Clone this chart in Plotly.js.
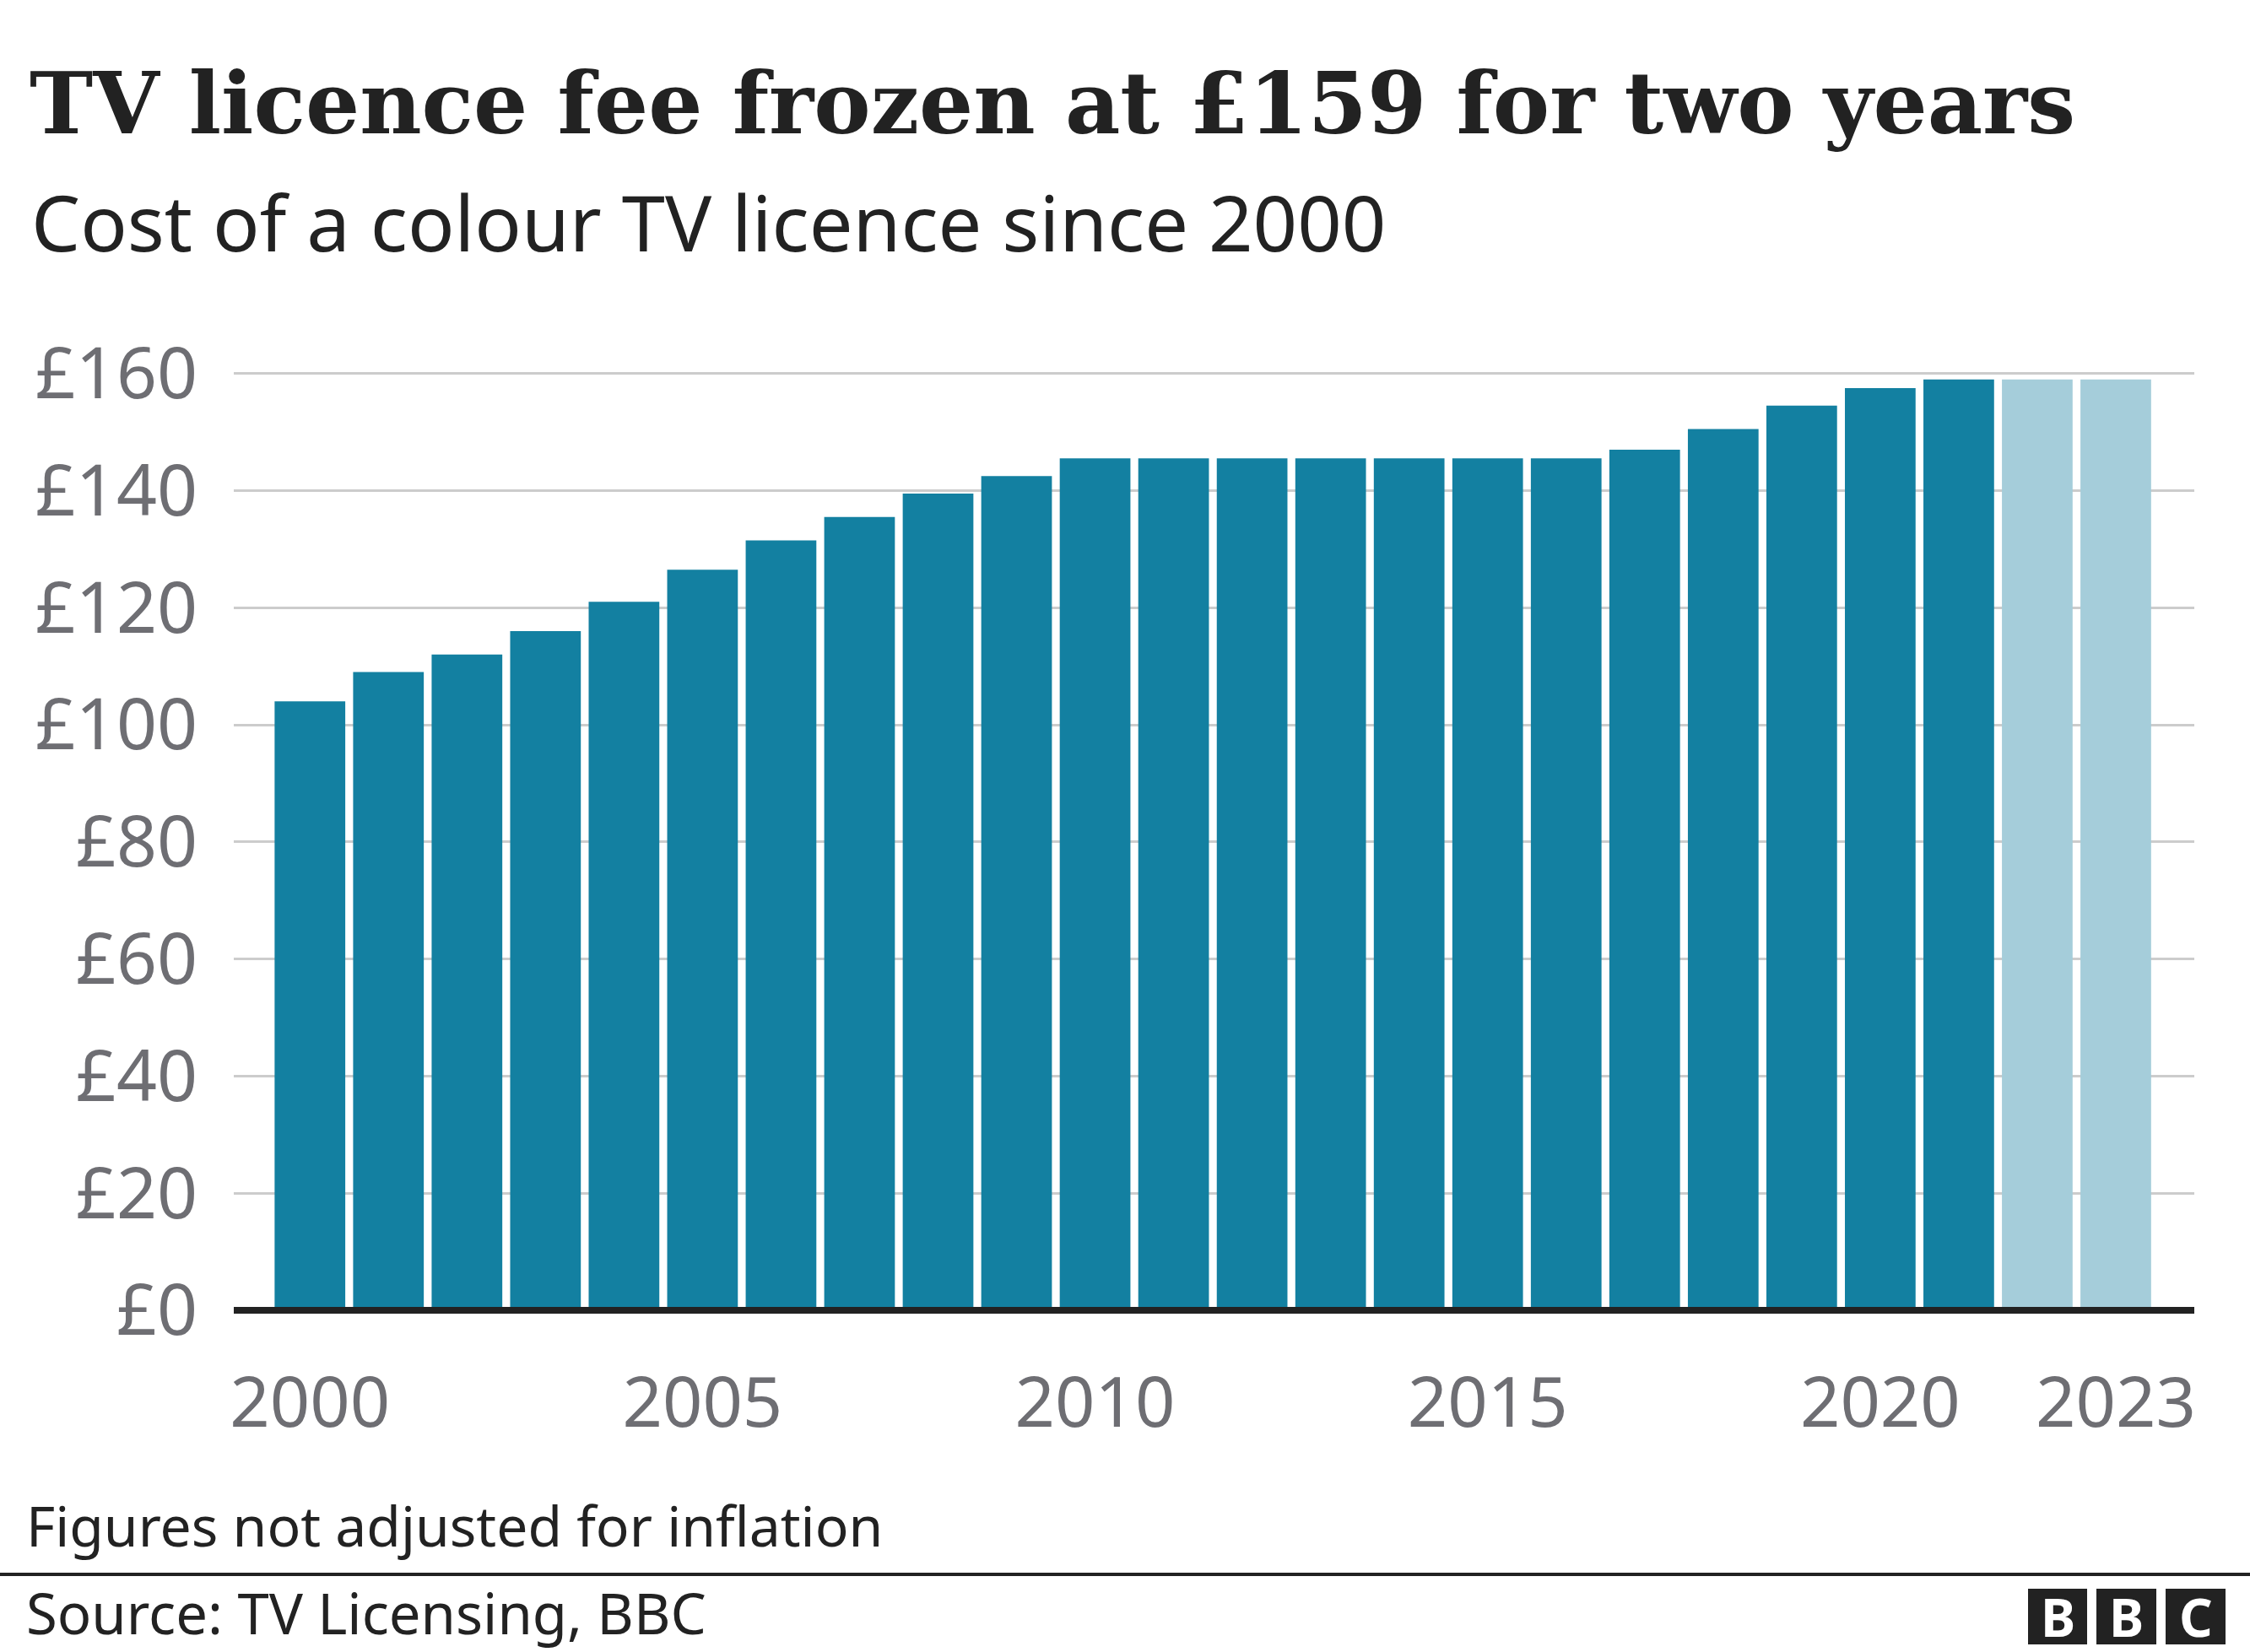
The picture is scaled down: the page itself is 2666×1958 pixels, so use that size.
<!DOCTYPE html>
<html>
<head>
<meta charset="utf-8">
<script src="https://cdn.plot.ly/plotly-3.0.1.min.js"></script>
<style>
  html, body { margin: 0; padding: 0; background: #ffffff; }
  #chart { width: 2666px; height: 1958px; }
</style>
</head>
<body>
<div id="chart"></div>
<script>
// ---- Data ----
const years = [2000, 2001, 2002, 2003, 2004, 2005, 2006, 2007, 2008, 2009, 2010, 2011,
               2012, 2013, 2014, 2015, 2016, 2017, 2018, 2019, 2020, 2021, 2022, 2023];
const fees = [104, 109, 112, 116, 121, 126.5, 131.5, 135.5, 139.5, 142.5, 145.5, 145.5,
              145.5, 145.5, 145.5, 145.5, 145.5, 147, 150.5, 154.5, 157.5, 159, 159, 159];
const frozenYears = [2022, 2023];
const xTickVals = [2000, 2005, 2010, 2015, 2020, 2023];
const xTickText = ['2000', '2005', '2010', '2015', '2020', '2023'];
const yTickVals = [0, 20, 40, 60, 80, 100, 120, 140, 160];
const yTickText = ['£0', '£20', '£40', '£60', '£80', '£100', '£120', '£140', '£160'];

const titleText = 'TV licence fee frozen at £159 for two years';
const subtitleText = 'Cost of a colour TV licence since 2000';
const noteText = 'Figures not adjusted for inflation';
const sourceText = 'Source: TV Licensing, BBC';

// ---- Layout geometry (pixels) ----
const W = 2666, H = 1958;
const M = { l: 277, r: 66, t: 408, b: 405 };
const plotW = W - M.l - M.r, plotH = H - M.t - M.b;
const px2x = px => (px - M.l) / plotW;
const px2y = py => (H - M.b - py) / plotH;

const DARK = '#1380A1', LIGHT = '#A5CDDA';
const barColors = years.map(y => frozenYears.includes(y) ? LIGHT : DARK);

const sans = 'Noto Sans, Open Sans, sans-serif';

const trace = {
  type: 'bar',
  x: years,
  y: fees,
  marker: { color: barColors, line: { width: 0 } },
  hoverinfo: 'x+y'
};

const logoBoxes = [[2403, 2473, 'B'], [2484, 2555, 'B'], [2566, 2637, 'C']];

const shapes = [
  { type: 'line', xref: 'paper', yref: 'paper',
    x0: px2x(0), x1: px2x(W), y0: px2y(1866), y1: px2y(1866),
    line: { color: '#222222', width: 4 } }
].concat(logoBoxes.map(b => ({
  type: 'rect', xref: 'paper', yref: 'paper',
  x0: px2x(b[0]), x1: px2x(b[1]), y0: px2y(1949), y1: px2y(1883),
  fillcolor: '#222222', line: { width: 0 }
})));

const annotations = [
  { text: subtitleText, xref: 'paper', yref: 'paper', x: px2x(35), y: px2y(262),
    xanchor: 'left', yanchor: 'middle', showarrow: false,
    font: { family: sans, size: 92, color: '#222222' } },
  { text: noteText, xref: 'paper', yref: 'paper', x: px2x(29), y: px2y(1807),
    xanchor: 'left', yanchor: 'middle', showarrow: false,
    font: { family: sans, size: 66, color: '#222222' } },
  { text: sourceText, xref: 'paper', yref: 'paper', x: px2x(29), y: px2y(1911),
    xanchor: 'left', yanchor: 'middle', showarrow: false,
    font: { family: sans, size: 67, color: '#222222' } }
].concat(logoBoxes.map(b => ({
  text: '<b>' + b[2] + '</b>', xref: 'paper', yref: 'paper',
  x: px2x((b[0] + b[1]) / 2), y: px2y(1916),
  xanchor: 'center', yanchor: 'middle', showarrow: false,
  font: { family: sans, size: 62, color: '#ffffff' }
})));

const layout = {
  width: W, height: H,
  margin: M,
  paper_bgcolor: '#ffffff',
  plot_bgcolor: '#ffffff',
  showlegend: false,
  bargap: 0.1,
  title: {
    text: '<b>' + titleText + '</b>',
    xref: 'container', yref: 'container',
    x: 35 / W, xanchor: 'left',
    y: 1 - 123 / H, yanchor: 'middle',
    font: { family: 'DejaVu Serif, serif', size: 101, color: '#222222' }
  },
  xaxis: {
    range: [1999.03, 2024.0],
    tickmode: 'array', tickvals: xTickVals, ticktext: xTickText,
    ticks: '', showgrid: false, zeroline: false, showline: false,
    ticklabelstandoff: 54,
    tickfont: { family: sans, size: 83, color: '#6E6E73' },
    fixedrange: true
  },
  yaxis: {
    range: [0, 165],
    tickmode: 'array', tickvals: yTickVals, ticktext: yTickText,
    ticks: '', showgrid: true, gridcolor: '#CCCCCC', gridwidth: 3,
    zeroline: true, zerolinecolor: '#222222', zerolinewidth: 8,
    zerolinelayer: 'above traces',
    showline: false,
    ticklabelstandoff: 42,
    tickfont: { family: sans, size: 84, color: '#6E6E73' },
    fixedrange: true
  },
  shapes: shapes,
  annotations: annotations
};

Plotly.newPlot('chart', [trace], layout, { displayModeBar: false, staticPlot: true });
</script>
</body>
</html>
